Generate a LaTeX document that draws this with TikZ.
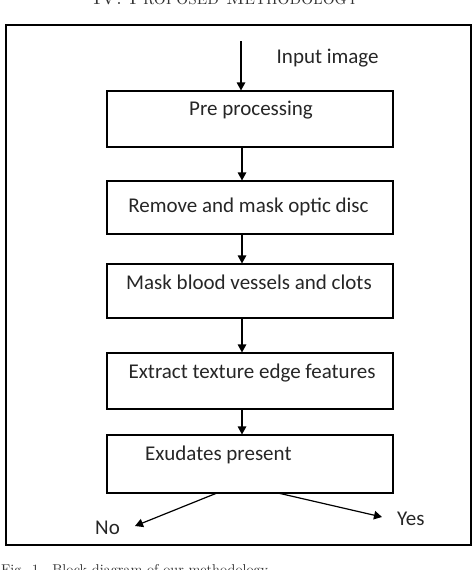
\documentclass[tikz,border=0pt]{standalone}
\usepackage{fontspec}
\newfontfamily\calib{Carlito}
\usetikzlibrary{arrows.meta,calc}
\begin{document}
\begin{tikzpicture}[x=1pt,y=-1pt,
  stepbox/.style={draw=black,line width=1.1pt,minimum width=286pt,inner sep=0pt},
  lbl/.style={font=\calib\fontsize{21}{25}\selectfont,text=black!85,inner sep=0pt,anchor=base},
  arr/.style={line width=1.2pt,-{Triangle[width=8.5pt,length=8pt]}}]
\useasboundingbox (0,0) rectangle (474,570);
\clip (0,0) rectangle (474,570);
% header and caption (partially cropped in reference)
\node[anchor=base west,inner sep=0pt,text=black!80] (hdr) at (93,4.5)
  {\resizebox{265pt}{!}{\textsc{IV. Proposed Methodology}}};
\node[anchor=north west,inner sep=0pt,text=black!80] (cap) at (1,564.5)
  {\resizebox{267pt}{!}{Fig. 1.\ \ Block diagram of our methodology}};
% frame
\node[draw=black,line width=2.6pt,minimum width=465pt,minimum height=520pt,inner sep=0pt] (frame) at (238.5,285) {};
% boxes
\node[stepbox,minimum height=56pt] (b1) at (250,119) {};
\node[stepbox,minimum height=53pt] (b2) at (250,207.5) {};
\node[stepbox,minimum height=54pt] (b3) at (250,291) {};
\node[stepbox,minimum height=56pt] (b4) at (250,381) {};
\node[stepbox,minimum height=58pt] (b5) at (250,464) {};
% texts
\node[lbl] (t1) at (251,115) {Pre processing};
\node[lbl] (t2) at (248.5,212.5) {Remove and mask optic disc};
\node[lbl] (t3) at (249,289.3) {Mask blood vessels and clots};
\node[lbl] (t4) at (252,378.3) {Extract texture edge features};
\node[lbl,anchor=base west] (t5) at (145,460) {Exudates present};
\node[lbl,anchor=base west] (tin) at (276.5,63.3) {Input image};
\node[lbl,anchor=base west] (tno) at (95,534) {No};
\node[lbl,anchor=base west] (tyes) at (397,525) {Yes};
% arrows
\coordinate (in) at (241,41);
\coordinate (ax) at (242,0);
\coordinate (noS) at (217,493);
\coordinate (noE) at (135,526);
\coordinate (yesS) at (278,493);
\coordinate (yesE) at (382,517);
\draw[arr] (in) -- (in |- b1.north);
\draw[arr] (ax |- b1.south) -- (ax |- b2.north);
\draw[arr] (ax |- b2.south) -- (ax |- b3.north);
\draw[arr] (ax |- b3.south) -- (ax |- b4.north);
\draw[arr] (ax |- b4.south) -- (ax |- b5.north);
\draw[arr] (noS) -- (noE);
\draw[arr] (yesS) -- (yesE);
\end{tikzpicture}
\end{document}
